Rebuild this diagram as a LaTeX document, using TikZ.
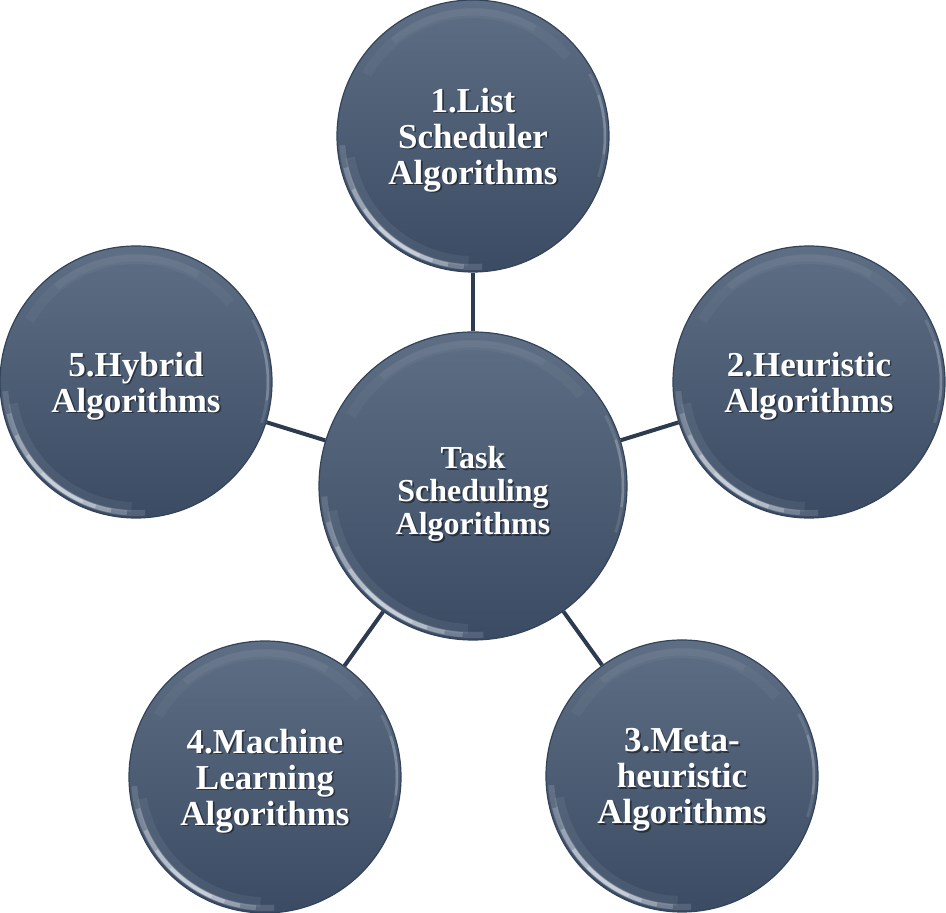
\documentclass[tikz,border=0pt]{standalone}
\usepackage{fontspec}
\setmainfont{Liberation Serif}
\definecolor{balltop}{HTML}{5E6E84}
\definecolor{ballbot}{HTML}{3A4B63}
\definecolor{ballrim}{HTML}{33435A}
\definecolor{conncol}{HTML}{2C3B50}
\definecolor{glint}{HTML}{EEF2FA}
\newcommand\rimarc[5]{% start, end, inset, width, opacity
  \draw[glint, opacity=#5, line width=#4pt, line cap=butt]
    ([shift={(#1:{\R-#3})}]path picture bounding box.center)
    arc[start angle=#1, end angle=#2, radius={\R-#3}];}
\newcommand\ballnode[5]{% name, position, radius, font style, text
  \def\R{#3}%
  \node[ball, #4, minimum size={2*#3pt},
    path picture={
      \rimarc{40}{150}{13}{10}{0.04}
      \rimarc{60}{130}{12}{7}{0.05}
      \rimarc{190}{268}{11}{10}{0.07}
      \rimarc{184}{274}{5}{6}{0.14}
      \rimarc{194}{266}{5}{5}{0.2}
      \rimarc{204}{259}{5}{4}{0.28}
      \rimarc{214}{252}{5}{4}{0.33}
      \rimarc{224}{246}{5}{3}{0.35}
      \rimarc{-18}{28}{4}{3}{0.12}
      \rimarc{-8}{18}{4}{2.5}{0.2}
      \node[shadowtext, #4] at ([shift={(1.6pt,-1.8pt)}]path picture bounding box.center) {#5};
    }] (#1) at #2 {#5};}
\tikzset{
  x=1pt, y=1pt,
  ball/.style={circle, inner sep=0pt, top color=balltop, bottom color=ballbot,
    draw=ballrim, line width=1.2pt, text=white, align=center},
  bigtext/.style={font=\bfseries\fontsize{35}{36}\selectfont, text depth=0pt},
  midtext/.style={font=\bfseries\fontsize{32}{33}\selectfont, text depth=0pt, text height=98pt},
  shadowtext/.style={text=black, text opacity=0.45, align=center, inner sep=0pt},
  conn/.style={draw=conncol, line width=4pt}
}
\begin{document}
\begin{tikzpicture}
\useasboundingbox (0,0) rectangle (946,913);
\ballnode{c}{(473,427)}{154}{midtext}{Task\\Scheduling\\Algorithms}
\ballnode{t}{(473,777)}{136}{bigtext}{1.List\\Scheduler\\Algorithms}
\ballnode{r}{(809,531)}{136}{bigtext}{2.Heuristic\\Algorithms}
\ballnode{br}{(682,137)}{136}{bigtext}{3.Meta-\\heuristic\\Algorithms}
\ballnode{bl}{(265,136)}{136}{bigtext}{4.Machine\\Learning\\Algorithms}
\ballnode{l}{(136,531)}{136}{bigtext}{5.Hybrid\\Algorithms}
\draw[conn] (c) -- (t);
\draw[conn] (c) -- (r);
\draw[conn] (c) -- (br);
\draw[conn] (c) -- (bl);
\draw[conn] (c) -- (l);
\end{tikzpicture}
\end{document}
